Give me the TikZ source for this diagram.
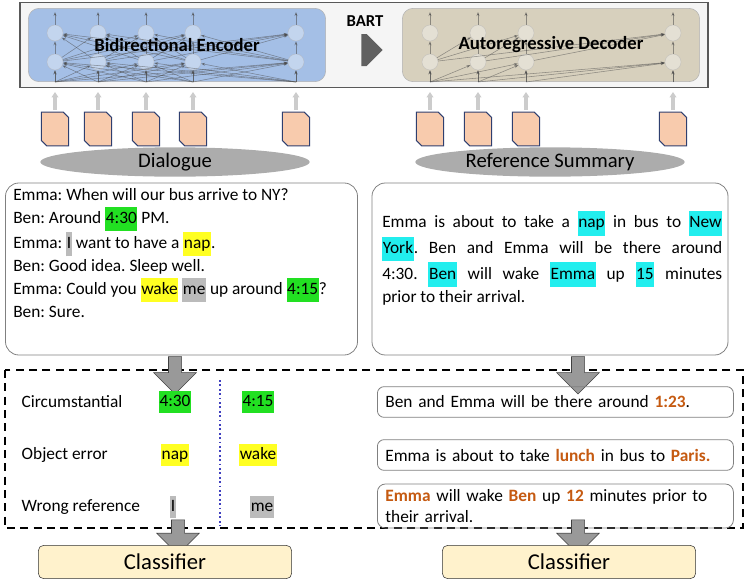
\documentclass[tikz,border=0pt]{standalone}
\usepackage{fontspec}
\setmainfont{Carlito}
\frenchspacing
\usetikzlibrary{shapes.misc,shapes.arrows,shapes.geometric,arrows.meta}
\definecolor{encb}{HTML}{A4BFE6}
\definecolor{decb}{HTML}{D7D0BD}
\definecolor{docf}{HTML}{F8CBAD}
\definecolor{docd}{HTML}{2F3F6F}
\definecolor{hlg}{HTML}{22E022}
\definecolor{hly}{HTML}{FFFF22}
\definecolor{hlc}{HTML}{22EEEE}
\definecolor{hlgr}{HTML}{BBBBBB}
\definecolor{err}{HTML}{C55A11}
\definecolor{clsf}{HTML}{FFF2CC}
\newcommand{\hlx}[2]{{\setlength{\fboxsep}{0.5pt}\colorbox{#1}{\strut #2}}}
\newcommand{\er}[1]{\textcolor{err}{\textbf{#1}}}
\newcommand{\jline}[1]{\hbox to 255pt{#1}}
\tikzset{
 circ/.style={circle,minimum size=12pt,inner sep=0pt,fill=white,fill opacity=0.35,draw=gray!60,draw opacity=0.5},
 doc/.style={rectangle,minimum width=20pt,minimum height=25pt,inner sep=0pt},
 docsh/.style={fill=docf,draw=docd,thick},
 uparr/.style={-{Triangle[width=5pt,length=4pt]},line width=2.5pt,draw=gray!40},
 net/.style={-{Stealth[length=3pt]},gray!60!black,opacity=0.55,line width=0.4pt},
 big/.style={single arrow,shape border rotate=270,fill=gray!80,draw=gray!50!black,minimum width=32pt,single arrow head extend=5pt,minimum height=28pt,inner sep=2pt},
 rbox/.style={draw=gray,rounded corners=6pt,line width=0.6pt},
 ell/.style={ellipse,fill=gray!65,minimum width=202pt,minimum height=22pt,inner sep=0pt,font=\fontsize{15.5}{18}\selectfont},
 cls/.style={draw=gray!40!black,fill=clsf,rounded corners=4pt,minimum width=190pt,minimum height=25pt,font=\fontsize{17}{20}\selectfont},
 lab/.style={anchor=west,font=\fontsize{13}{15}\selectfont},
}
\begin{document}
\begin{tikzpicture}[x=0.75pt,y=-0.75pt]
\useasboundingbox (0,0) rectangle (746,582);
% top
\node[draw=gray!70!black,fill=gray!8,line width=0.8pt,minimum width=516pt,minimum height=64pt,inner sep=0pt] (outer) at (364,45) {};
\node[draw=gray!60,fill=encb,rounded corners=8pt,minimum width=223pt,minimum height=55pt] (enc) at (177,45) {};
\node[draw=gray!60,fill=decb,rounded corners=8pt,minimum width=223pt,minimum height=55pt] (dec) at (551,45) {};
\foreach \x [count=\i] in {55,98,146,193,296}{
  \node[circ] (eb\i) at (\x,62) {}; \node[circ] (et\i) at (\x,33) {};
  \coordinate (ei\i) at (\x,82); \coordinate (eo\i) at (\x,12);
  \draw[net] (et\i) -- (eo\i); \draw[net] (ei\i) -- (eb\i);
}
\foreach \i in {1,...,5}{\foreach \j in {1,...,5}{\draw[net] (eb\i) -- (et\j); \draw[net] (ei\i) -- (eb\j);}}
\foreach \x [count=\i] in {430,478,526,673}{
  \node[circ] (db\i) at (\x,62) {}; \node[circ] (dt\i) at (\x,33) {};
  \coordinate (di\i) at (\x,82); \coordinate (do\i) at (\x,12);
  \draw[net] (dt\i) -- (do\i); \draw[net] (di\i) -- (db\i);
}
\foreach \i in {1,...,4}{\foreach \j in {\i,...,4}{\draw[net] (db\i) -- (dt\j); \draw[net] (di\i) -- (db\j);}}
\node[font=\bfseries\fontsize{14}{16}\selectfont] (encl) at (177,45) {Bidirectional Encoder};
\node[font=\bfseries\fontsize{14}{16}\selectfont] (decl) at (551,45) {Autoregressive Decoder};
\node[font=\bfseries\fontsize{12.5}{14}\selectfont] (bart) at (365,21) {BART};
\node[single arrow,fill=gray!75!black,minimum width=24pt,minimum height=16pt,single arrow head extend=0pt,inner sep=1pt] (barr) at (364,50) {};
% inputs
\foreach \x/\n in {55/e1,98/e2,146/e3,193/e4,296/e5,430/d1,478/d2,526/d3,673/d4}{
  \node[doc] (doc\n) at (\x,129) {};
  \draw[docsh] (doc\n.north west) -- ([xshift=-4pt]doc\n.north east) -- ([yshift=-4pt]doc\n.north east) -- (doc\n.south east) -- ([xshift=4pt]doc\n.south west) -- ([yshift=4pt]doc\n.south west) -- cycle;
  \coordinate (ar\n) at (\x,110); \coordinate (au\n) at (\x,92);
  \draw[uparr] (ar\n) -- (au\n);
}
\node[ell] (dial) at (175,162) {Dialogue};
\node[ell] (refs) at (550,162) {Reference Summary};
% dialogue box
\node[rbox,minimum width=264pt,minimum height=129pt,rounded corners=10pt] (dbox) at (181.5,269) {};
\node[anchor=north west,align=left,font=\fontsize{13}{17.2}\selectfont,inner sep=0pt] (dtext) at (13,188) {%
Emma: When will our bus arrive to NY?\\
Ben: Around \hlx{hlg}{4:30} PM.\\
Emma: \hlx{hlgr}{I} want to have a \hlx{hly}{nap}.\\
Ben: Good idea. Sleep well.\\
Emma: Could you \hlx{hly}{wake} \hlx{hlgr}{me} up around \hlx{hlg}{4:15}?\\
Ben: Sure.};
\node[rbox,minimum width=267pt,minimum height=129pt,rounded corners=10pt] (sbox) at (550,269) {};
\node[anchor=north west,align=left,font=\fontsize{13}{17.2}\selectfont,inner sep=0pt] (stext) at (382,211) {%
\jline{Emma is about to take a \hlx{hlc}{nap} in bus to \hlx{hlc}{New}}\\
\jline{\hlx{hlc}{York}. Ben and Emma will be there around}\\
\jline{4:30. \hlx{hlc}{Ben} will wake \hlx{hlc}{Emma} up \hlx{hlc}{15} minutes}\\
prior to their arrival.};
% dashed box
\draw[dashed,line width=1pt,dash pattern=on 6pt off 4pt] (5,370) rectangle (743,528);
\node[big] (a1) at (175,372) {};
\node[big] (a2) at (578,372) {};
\coordinate (vt) at (220,380); \coordinate (vb) at (220,526);
\draw[dotted,line width=1.3pt,draw=blue!50!gray] (vt) -- (vb);
\node[lab] (l1) at (17,402) {Circumstantial};
\node[lab] (l2) at (17,455) {Object error};
\node[lab] (l3) at (17,507) {Wrong reference};
\node[lab,anchor=center] (c11) at (175,402) {\hlx{hlg}{4:30}};
\node[lab,anchor=center] (c12) at (258,402) {\hlx{hlg}{4:15}};
\node[lab,anchor=center] (c21) at (175,455) {\hlx{hly}{nap}};
\node[lab,anchor=center] (c22) at (258,455) {\hlx{hly}{wake}};
\node[lab,anchor=center] (c31) at (173,507) {\hlx{hlgr}{I}};
\node[lab,anchor=center] (c32) at (262,507) {\hlx{hlgr}{me}};
\node[rbox,minimum height=23pt,rounded corners=5pt,anchor=west,inner xsep=6pt,align=left,text width=255pt,font=\fontsize{13}{15}\selectfont] (r1) at (377,402) {Ben and Emma will be there around \er{1:23}.};
\node[rbox,minimum height=23pt,rounded corners=5pt,anchor=west,inner xsep=6pt,align=left,text width=255pt,font=\fontsize{13}{15}\selectfont] (r2) at (377,455) {Emma is about to take \er{lunch} in bus to \er{Paris.}};
\node[rbox,minimum height=33pt,rounded corners=6pt,anchor=west,inner xsep=6pt,align=left,text width=255pt,font=\fontsize{13}{16}\selectfont] (r3) at (377,506) {\er{Emma} will wake \er{Ben} up \er{12} minutes prior to\\their arrival.};
\node[big,minimum height=26pt] (a3) at (178,534) {};
\node[big,minimum height=26pt] (a4) at (578,534) {};
\node[cls] (cl1) at (165,562) {Classifier};
\node[cls] (cl2) at (569,562) {Classifier};
\end{tikzpicture}
\end{document}
